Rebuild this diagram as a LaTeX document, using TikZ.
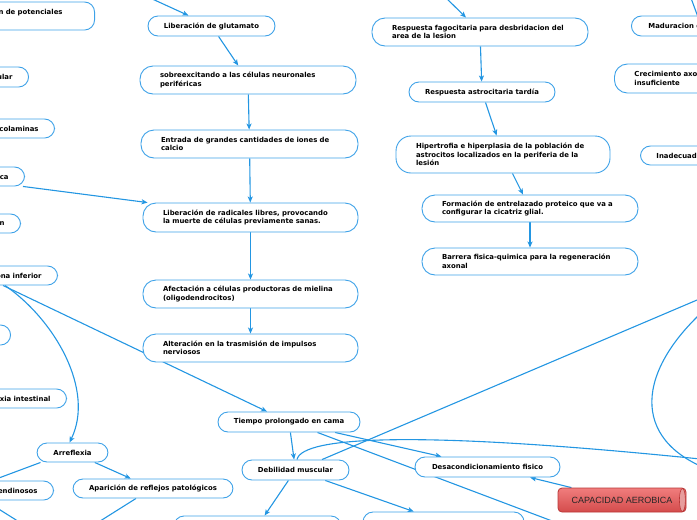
\documentclass[tikz,border=0pt]{standalone}
\usepackage{fontspec}
\setmainfont{DejaVu Sans}
\newfontfamily\capfont{Liberation Sans}
\usetikzlibrary{arrows.meta,backgrounds}
\definecolor{boxblue}{RGB}{62,162,232}
\definecolor{lineblue}{RGB}{35,150,226}
\definecolor{redtop}{RGB}{240,125,125}
\definecolor{redbot}{RGB}{212,76,76}
\definecolor{redline}{RGB}{185,55,55}
\begin{document}
\begin{tikzpicture}[x=1pt,y=-1pt,
  bx/.style={draw=boxblue, line width=0.9pt, fill=white, rounded corners=#1,
    inner xsep=20pt, inner ysep=0pt, text=black,
    font=\bfseries\fontsize{6.9}{8.5}\selectfont},
  bx/.default=10pt,
  cbx/.style={bx, inner xsep=12pt},
  lbx/.style={bx, anchor=east, align=right, text width=70pt, inner xsep=16pt},
  mbx/.style={bx=13pt, align=left},
  redbx/.style={draw=redline, line width=0.8pt, top color=redtop, bottom color=redbot,
    rounded corners=4pt, inner sep=0pt, text=black!85,
    font=\capfont\fontsize{9}{10}\selectfont},
  ln/.style={draw=lineblue, line width=1.1pt},
  arr/.style={ln, -{Stealth[length=6pt,width=5pt,inset=1.5pt]}}
]
\useasboundingbox (0,0) rectangle (697,520);
\begin{scope}
\clip (0,0) rectangle (697,520);
% left clipped column
\node[lbx, inner xsep=32pt, text width=64pt, minimum height=28pt] (A) at (95,16) {n de potenciales\\\phantom{x}};
\node[lbx, minimum height=20pt] (B) at (29,77) {ular};
\node[lbx, minimum height=19pt] (C) at (55,128.5) {colaminas};
\node[lbx, minimum height=19pt] (D) at (25,176.5) {ica};
\node[lbx, minimum height=19pt] (E) at (21,223.5) {n};
\node[lbx, minimum height=19pt] (F) at (58,275.5) {ona inferior};
\node[lbx, minimum height=20pt] (G) at (11,335) {};
\node[lbx, minimum height=19pt] (H) at (67,398.5) {xia intestinal};
\node[lbx, minimum height=19pt] (J) at (54,490.5) {endinosos};
\node[cbx, minimum width=71pt, minimum height=19pt] (I) at (72.5,452.5) {Arreflexia};
\node[cbx, minimum width=160pt, minimum height=19pt] (K) at (153,488.5) {Aparición de reflejos patológicos};
% middle column
\node[cbx, minimum width=127pt, minimum height=20pt] (L) at (211.5,26) {Liberación de glutamato};
\node[mbx, text width=176pt, minimum height=28pt] (M) at (248,80) {sobreexcitando a las células neuronales\\periféricas};
\node[mbx, text width=177pt, minimum height=28pt] (N) at (249.5,144) {Entrada de grandes cantidades de iones de\\calcio};
\node[mbx, text width=175pt, minimum height=29pt] (O) at (250.5,217.5) {Liberación de radicales libres, provocando\\la muerte de células previamente sanas.};
\node[mbx, text width=175pt, minimum height=28pt] (P) at (250.5,294) {Afectación a células productoras de mielina\\(oligodendrocitos)};
\node[mbx, text width=175pt, minimum height=28pt] (Q) at (250.5,348) {Alteración en la trasmisión de impulsos\\nerviosos};
\node[cbx, minimum width=142pt, minimum height=20pt] (R) at (289,422) {Tiempo prolongado en cama};
\node[cbx, minimum width=107pt, minimum height=20pt] (S) at (295.5,470) {Debilidad muscular};
\node[cbx, minimum width=167pt, minimum height=20pt] (T) at (257.5,526) {};
\node[cbx, minimum width=161pt, minimum height=20pt] (U) at (443.5,522) {};
\node[cbx, minimum width=145pt, minimum height=20pt] (V) at (487.5,467) {Desacondicionamiento fisico};
\node[redbx, minimum width=128pt, minimum height=24pt] (W) at (622,500) {CAPACIDAD AEROBICA};
% right middle column
\node[mbx, text width=176pt, minimum height=28pt] (X) at (480,32) {Respuesta fagocitaria para desbridacion del\\area de la lesion};
\node[cbx, minimum width=146pt, minimum height=20pt] (Y) at (482,92) {Respuesta astrocitaria tardía};
\node[mbx, bx=15pt, text width=174pt, minimum height=37pt] (Z) at (503,154.5) {Hipertrofia e hiperplasia de la población de\\astrocitos localizados en la periferia de la\\lesión};
\node[mbx, text width=176pt, minimum height=27pt] (AA) at (530,208.5) {Formación de entrelazado proteico que va a\\configurar la cicatriz glial.};
\node[mbx, text width=176pt, minimum height=27pt] (AB) at (530,261.5) {Barrera fisica-quimica para la regeneración\\axonal};
% right clipped column
\node[bx, anchor=west, align=left, text width=100pt, inner xsep=17pt, minimum height=20pt] (AC) at (631,26) {Maduracion de};
\node[mbx, anchor=west, text width=110pt, minimum height=29pt] (AD) at (614,78.5) {Crecimiento axonal\\insuficiente};
\node[bx, anchor=west, align=left, text width=80pt, inner xsep=16pt, minimum height=19pt] (AE) at (640,155.5) {Inadecuada};
\end{scope}
\draw[redline, fill=redbot!55!white, line width=0.6pt] ([xshift=-4pt]W.east) ellipse (3pt and 11.5pt);
\coordinate (tl) at (137,-8);
\coordinate (tx) at (440,-8);
\coordinate (tr) at (688,-10);
\coordinate (kd) at (70,540);
\coordinate (jd) at (40,535);
\coordinate (rb) at (576,530);
\coordinate (sr) at (710,294.5);
\coordinate (sc) at (710,460);
\coordinate (c1) at (710,305);
\coordinate (c2) at (710,470);
\begin{scope}[on background layer]
\clip (0,0) rectangle (697,520);
\draw[arr] (tl) -- ([xshift=-23pt]L.north);
\draw[arr] (L) -- (M);
\draw[arr] (M) -- (N);
\draw[arr] (N) -- (O);
\draw[arr] (O) -- (P);
\draw[arr] (P) -- (Q);
\draw[arr] ([xshift=-2pt]D.south east) -- ([xshift=5pt]O.north west);
\draw[arr] ([xshift=-55pt]F.south east) -- ([xshift=-22pt]R.north);
\draw[arr] ([xshift=-53pt]F.south east) .. controls (55,320) and (95,390) .. ([xshift=-3pt]I.north);
\draw[ln] ([xshift=4pt]I.south west) -- ([xshift=-62pt]J.north east);
\draw[arr] (I) -- (K);
\draw[ln] ([xshift=-17pt]K.south) -- (kd);
\draw[ln] ([xshift=-69pt]J.south east) -- (jd);
\draw[arr] (R) -- (S);
\draw[arr] (R) -- (V);
\draw[ln] ([xshift=-43pt]R.south east) -- (rb);
\draw[arr] (S) -- (T);
\draw[arr] (S) -- (U);
\draw[ln] ([xshift=26.5pt]S.north) -- (sr);
\draw[ln] ([xshift=1.5pt]S.north) .. controls (302,436) and (420,430) .. (sc);
\draw[ln] (c1) .. controls (635,370) and (630,440) .. (c2);
\draw[arr] (W) -- (V);
\draw[arr] (tx) -- ([xshift=-14pt]X.north);
\draw[arr] (X) -- (Y);
\draw[arr] (Y) -- (Z);
\draw[arr] (Z) -- (AA);
\draw[arr] (AA) -- (AB);
\draw[ln] (tr) -- ([xshift=-1pt]AC.north);
\end{scope}
\end{tikzpicture}
\end{document}
